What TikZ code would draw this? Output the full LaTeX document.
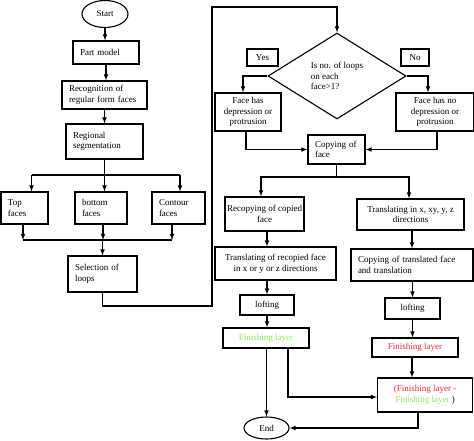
\documentclass[tikz,border=0pt]{standalone}
\usepackage{fontspec}
\setmainfont{Liberation Serif}
\usepackage{xcolor}
\usepackage{tikz}
\usetikzlibrary{arrows,positioning,calc,shapes.geometric}
\definecolor{fingreen}{RGB}{140,232,90}
\definecolor{finred}{RGB}{236,40,62}
\tikzset{box/.style={draw=black,rectangle,inner sep=2pt,align=center,font=\fontsize{9}{10.6}\selectfont}}
\tikzset{lbox/.style={box,align=left,inner xsep=7pt,text width=#1}}
\tikzset{term/.style={draw=black,ellipse,inner sep=0pt,font=\fontsize{9}{10.6}\selectfont}}

\begin{document}
\begin{tikzpicture}[->, >=latex, x=1pt, y=-1pt, line width=1.1pt]
    \useasboundingbox (0,0) rectangle (474,440);
    % left column
    \node[term,minimum width=46,minimum height=27] (start) at (105,14) {Start};
    \node[lbox=52,minimum height=23] (part) at (106,52.5) {Part model};
    \node[lbox=71,minimum height=28] (recog) at (104.5,95) {Recognition of\\regular form faces};
    \node[lbox=63,minimum height=35] (seg) at (104.5,141.5) {Regional\\segmentation};
    \node[lbox=33,minimum height=32] (top) at (24.5,208) {Top\\faces};
    \node[lbox=38,minimum height=32] (bottom) at (101,208) {bottom\\faces};
    \node[lbox=39,minimum height=32] (contour) at (178.5,208) {Contour\\faces};
    \node[lbox=55,minimum height=36] (sel) at (102.5,274) {Selection of\\loops};

    % decision
    \node[draw=black,diamond,inner sep=0pt,minimum width=138,minimum height=86,align=left,font=\fontsize{9}{10.6}\selectfont] (dia) at (337,76) {Is no. of loops\\on each\\face>1?};
    \node[box,minimum width=31,minimum height=17] (yes) at (262.5,57.5) {Yes};
    \node[box,minimum width=28,minimum height=17] (no) at (415,57.5) {No};
    \node[box,minimum width=66,minimum height=38] (fhas) at (248,112) {Face has\\depression or\\protrusion};
    \node[box,minimum width=78,minimum height=38] (fno) at (435,112) {Face has no\\depression or\\protrusion};
    \node[lbox=43,minimum height=29] (copy) at (336.5,149.5) {Copying of\\face};

    % two branches
    \node[box,minimum width=71,minimum height=34] (recop) at (264.5,214) {Recopying of copied\\face};
    \node[box,minimum width=107,minimum height=31] (transl) at (410.5,214.5) {Translating in x, xy, y, z\\directions};
    \node[box,minimum width=121,minimum height=33] (trrec) at (275.5,263.5) {Translating of recopied face\\in x or y or z directions};
    \node[lbox=108,minimum height=32] (cptr) at (412,265) {Copying of translated face\\and translation};
    \node[box,minimum width=54,minimum height=20] (loftL) at (267,305) {lofting};
    \node[box,minimum width=55,minimum height=21] (loftR) at (412.5,308.5) {lofting};
    \node[box,minimum width=86,minimum height=20,text=fingreen] (finG) at (266,338) {Finishing layer};
    \node[box,minimum width=86,minimum height=19,text=finred] (finR) at (415,347.5) {Finishing layer};
    \node[box,minimum width=95,minimum height=34] (combo) at (425,395) {\textcolor{finred}{(Finishing layer -}\\\textcolor{fingreen}{Finishing layer} )};
    \node[term,minimum width=45,minimum height=22] (end) at (266.5,428) {End};

    \coordinate (split) at (seg.south |- 0,175);
    \coordinate (merge) at (sel.north |- 0,240);
    \coordinate (c1) at (212,306);
    \coordinate (c2) at (212,7);
    \coordinate (split2) at (copy.south |- 0,177);

    \path (start.south) edge (start.south |- part.north)
          (part.south) edge (part.south |- recog.north)
          (recog.south) edge (recog.south |- seg.north);
    \draw[-] (seg.south) -- (split);
    \draw[-] ([xshift=7pt]top.north |- split) -- ([xshift=1.5pt]contour.north |- split);
    \path ([xshift=7pt]top.north |- split) edge ([xshift=7pt]top.north)
          (split) edge (split |- bottom.north)
          ([xshift=1.5pt]contour.north |- split) edge ([xshift=1.5pt]contour.north);
    \path ([xshift=-1.5pt]top.south) edge ([xshift=-1.5pt]top.south |- merge)
          ([xshift=2pt]bottom.south) edge ([xshift=2pt]bottom.south |- merge)
          ([xshift=-6.5pt]contour.south) edge ([xshift=-6.5pt]contour.south |- merge);
    \draw[-] ([xshift=-1.5pt]top.south |- merge) -- ([xshift=-6.5pt]contour.south |- merge);
    \draw (merge) -- (sel.north);
    \draw (sel.south) |- (c1) -- (c2) -| (dia.north);

    \draw (dia.west) -| ([xshift=-5pt]fhas.north);
    \draw (dia.east) -| ([xshift=-7pt]fno.north);
    \draw ([xshift=-2pt]fhas.south) |- (copy.west);
    \draw ([xshift=2pt]fno.south) |- (copy.east);
    \draw[-] (copy.south) -- (split2);
    \draw (split2) -| ([xshift=-3.5pt]recop.north);
    \draw (split2) -| ([xshift=-1.5pt]transl.north);
    \draw ([xshift=2.5pt]recop.south) -- ([xshift=2.5pt]recop.south |- trrec.north);
    \draw ([xshift=1.5pt]transl.south) -- ([xshift=1.5pt]transl.south |- cptr.north);
    \draw (loftL.north |- trrec.south) -- (loftL.north);
    \draw (loftR.north |- cptr.south) -- (loftR.north);
    \draw (loftL.south) -- (loftL.south |- finG.north);
    \draw (loftR.south) -- (loftR.south |- finR.north);
    \draw ([xshift=-3pt]finR.south) -- ([xshift=-3pt]finR.south |- combo.north);
    \draw (end.north |- finG.south) -- (end.north);
    \draw ([xshift=22pt]finG.south) |- ([yshift=-2pt]combo.west);
    \draw ([xshift=-7pt]combo.south) |- (end.east);
\end{tikzpicture}
\end{document}
